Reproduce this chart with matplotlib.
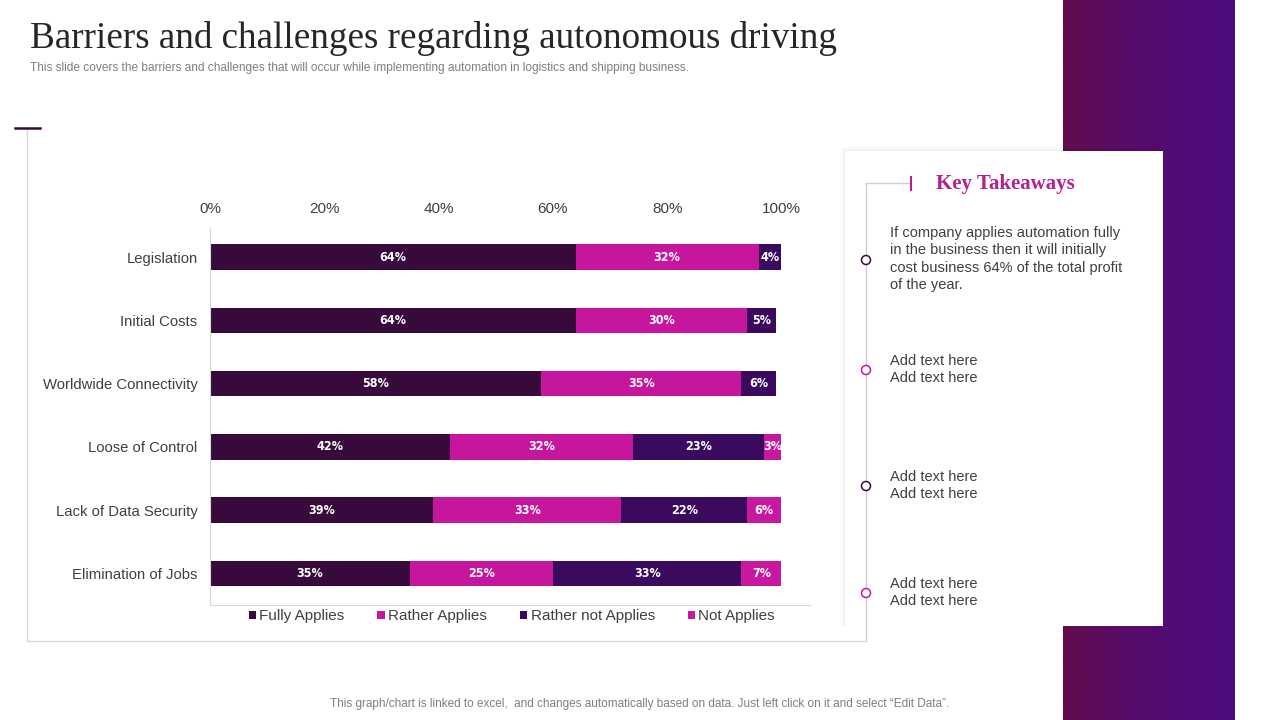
import numpy as np
import matplotlib.pyplot as plt
from matplotlib.patches import Rectangle, Circle
from matplotlib.colors import LinearSegmentedColormap

plt.rcParams['font.family'] = ['Liberation Sans', 'DejaVu Sans']

categories = ['Legislation', 'Initial Costs', 'Worldwide Connectivity',
              'Loose of Control', 'Lack of Data Security', 'Elimination of Jobs']
fully = [64, 64, 58, 42, 39, 35]
rather = [32, 30, 35, 32, 33, 25]
rather_not = [4, 5, 6, 23, 22, 33]
not_applies = [0, 0, 0, 3, 6, 7]
series_names = ['Fully Applies', 'Rather Applies', 'Rather not Applies', 'Not Applies']
colors = ['#380a3c', '#c7169e', '#3a0a5f', '#c8189f']
ticks = [0, 20, 40, 60, 80, 100]

takeaways = [
    'If company applies automation fully\nin the business then it will initially\ncost business 64% of the total profit\nof the year.',
    'Add text here\nAdd text here',
    'Add text here\nAdd text here',
    'Add text here\nAdd text here',
]

fig = plt.figure(figsize=(12.8, 7.2), dpi=100)

# background layer in pixel coordinates
bg = fig.add_axes([0, 0, 1, 1], zorder=0)
bg.set_xlim(0, 1280)
bg.set_ylim(720, 0)
bg.axis('off')

# gradient stripe on the right
cmap = LinearSegmentedColormap.from_list('g', ['#620c4e', '#540c70', '#4d0b7d'])
grad = np.linspace(0, 1, 200).reshape(1, -1)
bg.imshow(grad, cmap=cmap, extent=[1063, 1235, 720, 0], aspect='auto', zorder=1)

# key takeaways panel with soft shadow
for d, a in [(4, 0.01), (3, 0.012), (2, 0.016), (1, 0.02)]:
    bg.add_patch(Rectangle((845 - d, 151 - d), 318 + d, 475 + d,
                           facecolor='black', alpha=a, edgecolor='none', zorder=2))
bg.add_patch(Rectangle((845, 151), 318, 475, facecolor='white', edgecolor='none', zorder=3))

# chart frame
bg.plot([27, 27], [128, 641], color='#d9d9d9', lw=1, zorder=4)
bg.plot([27, 866], [641, 641], color='#d9d9d9', lw=1, zorder=4)
bg.plot([15, 40], [128, 128], color='#3a0a3c', lw=1.8, zorder=4)

# timeline
bg.plot([866, 866], [183, 640], color='#d0d0d0', lw=1, zorder=4)
bg.plot([866, 911], [183, 183], color='#d0d0d0', lw=1, zorder=4)
bg.plot([911, 911], [177, 190], color='#b5208e', lw=1.5, zorder=5)
bg.text(936, 184, 'Key Takeaways', family='Liberation Serif', fontweight='bold',
        fontsize=15, color='#b5208e', va='center', ha='left', zorder=6)

circle_y = [260, 370, 486, 593]
circle_c = ['#3a0a3c', '#c7169e', '#3a0a3c', '#c7169e']
text_y = [233, 361, 477, 584]
for cy, cc, ty, t in zip(circle_y, circle_c, text_y, takeaways):
    bg.add_patch(Circle((866, cy), 4.5, facecolor='white', edgecolor=cc, lw=1.1, zorder=6))
    bg.text(890, ty - 7, t, fontsize=10.5, color='#404040', va='top', ha='left',
            linespacing=1.3, zorder=6)

# title texts
bg.text(30, 38, 'Barriers and challenges regarding autonomous driving',
        family='Liberation Serif', fontsize=26.7, color='#262626', va='center', ha='left')
bg.text(30, 68, 'This slide covers the barriers and challenges that will occur while implementing automation in logistics and shipping business.',
        fontsize=8.6, color='#7f7f7f', va='center', ha='left')
bg.text(640, 704, 'This graph/chart is linked to excel,  and changes automatically based on data. Just left click on it and select \u201cEdit Data\u201d.',
        fontsize=8.5, color='#7f7f7f', va='center', ha='center')

# chart axes: 210..810 px wide, 228..605 px tall
ax = fig.add_axes([210 / 1280, (720 - 605) / 720, 600 / 1280, 377 / 720], zorder=2)
ax.patch.set_alpha(0)
y = np.arange(len(categories))
left = np.zeros(len(categories))
for name, vals, col in zip(series_names, [fully, rather, rather_not, not_applies], colors):
    vals = np.array(vals, dtype=float)
    ax.barh(y, vals, left=left, height=0.4, color=col, label=name)
    for yi, l, v in zip(y, left, vals):
        if v > 0:
            ax.text(l + v / 2, yi, f'{int(v)}%', ha='center', va='center', color='white',
                    fontsize=9, fontweight='bold', fontstretch='condensed',
                    family=['Liberation Sans Narrow', 'DejaVu Sans'])
    left += vals

ax.set_xlim(0, 105)
ax.set_ylim(5.5, -0.46)
ax.set_yticks(y)
ax.set_yticklabels(categories, fontsize=10.7, color='#404040')
ax.xaxis.tick_top()
ax.set_xticks(ticks)
ax.set_xticklabels([f'{t}%' for t in ticks], fontsize=11, color='#404040')
ax.tick_params(axis='y', length=0, pad=9)
ax.tick_params(axis='x', length=0, pad=8.5)
for s in ['top', 'right']:
    ax.spines[s].set_visible(False)
ax.spines['left'].set_color('#d9d9d9')
ax.spines['bottom'].set_color('#d9d9d9')

leg = ax.legend(loc='center', bbox_to_anchor=(0.503, -0.03), ncol=4, frameon=False,
                fontsize=11, handlelength=0.5, handleheight=0.5, handletextpad=0.2,
                columnspacing=2.15)
for t in leg.get_texts():
    t.set_color('#404040')

fig.savefig('out.png', dpi=100)
